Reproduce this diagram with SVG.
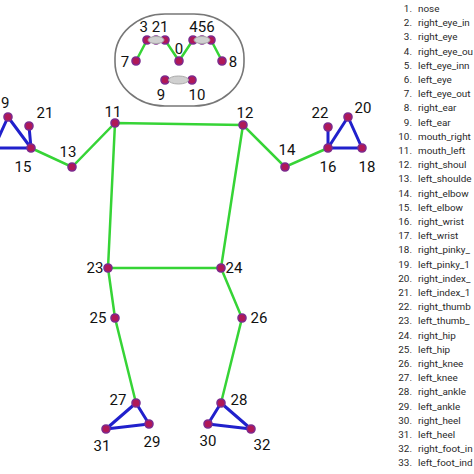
<svg xmlns="http://www.w3.org/2000/svg" width="474" height="474" viewBox="0 0 474 474">
<style>
.g{stroke:#36d436;stroke-width:2.5;fill:none;stroke-linecap:round}
.b{stroke:#2020cc;stroke-width:3;fill:none;stroke-linecap:round;stroke-linejoin:round}
.j{fill:#b01858;stroke:#7d2a8d;stroke-width:1.6}
.lbl{font-family:Roboto,"Liberation Sans",sans-serif;font-size:15px;fill:#111}
.lg{font-family:Roboto,"Liberation Sans",sans-serif;font-size:9.9px;fill:#2a2a2a}
.el{fill:#d0d0d0;stroke:#aaa;stroke-width:1}
</style>
<rect width="474" height="474" fill="#fff"/>
<g id="head">
<rect x="115" y="14" width="129" height="92" rx="50" ry="44" fill="none" stroke="#777" stroke-width="1.6"/>
</g>
<g id="connectors">
<polyline class="g" points="136,61 147,40"/>
<polyline class="g" points="165,40 179,61 193,40"/>
<polyline class="g" points="211,40 222,61"/>
<polyline class="g" points="31,148 72,167 115,123 243,125 285,167 328,148"/>
<polyline class="g" points="115,123 108,268 221,268 243,125"/>
<polyline class="g" points="108,268 115,318 136,403"/>
<polyline class="g" points="221,268 242,318 221,403"/>
<polyline class="b" points="31,148 -6,148 8,117 31,148 29,126"/>
<polyline class="b" points="328,148 348,117 362,148 328,148 328,127"/>
<polygon class="b" points="136,403 149,424 106,429"/>
<polygon class="b" points="221,403 208,424 251,429"/>
</g>
<g id="face-points">
<circle class="j" cx="147" cy="40" r="4"/><circle class="j" cx="156" cy="40" r="4"/><circle class="j" cx="165" cy="40" r="4"/>
<ellipse class="el" cx="156" cy="40" rx="8" ry="3.5"/>
<circle class="j" cx="193" cy="40" r="4"/><circle class="j" cx="202" cy="40" r="4"/><circle class="j" cx="211" cy="40" r="4"/>
<ellipse class="el" cx="202" cy="40" rx="8" ry="3.5"/>
<circle class="j" cx="136" cy="61" r="4"/>
<circle class="j" cx="179" cy="61" r="4"/>
<circle class="j" cx="222" cy="61" r="4"/>
<circle class="j" cx="165" cy="80" r="4"/><circle class="j" cx="192" cy="80" r="4"/>
<ellipse class="el" cx="178.5" cy="80" rx="10" ry="4"/>
<text class="lbl" x="154" y="32" text-anchor="middle">3 21</text>
<text class="lbl" x="202" y="32" text-anchor="middle">456</text>
<text class="lbl" x="179" y="54" text-anchor="middle">0</text>
<text class="lbl" x="125" y="67" text-anchor="middle">7</text>
<text class="lbl" x="233" y="67" text-anchor="middle">8</text>
<text class="lbl" x="161" y="100" text-anchor="middle">9</text>
<text class="lbl" x="197" y="100" text-anchor="middle">10</text>
</g>
<g id="n11"><circle class="j" cx="115" cy="123" r="4"/><text class="lbl" x="113" y="117" text-anchor="middle">11</text></g>
<g id="n12"><circle class="j" cx="243" cy="125" r="4"/><text class="lbl" x="245" y="118" text-anchor="middle">12</text></g>
<g id="n13"><circle class="j" cx="72" cy="167" r="4"/><text class="lbl" x="68" y="157" text-anchor="middle">13</text></g>
<g id="n14"><circle class="j" cx="285" cy="167" r="4"/><text class="lbl" x="287" y="155" text-anchor="middle">14</text></g>
<g id="n15"><circle class="j" cx="31" cy="148" r="4"/><text class="lbl" x="23" y="172" text-anchor="middle">15</text></g>
<g id="n16"><circle class="j" cx="328" cy="148" r="4"/><text class="lbl" x="328" y="172" text-anchor="middle">16</text></g>
<g id="n18"><circle class="j" cx="362" cy="148" r="4"/><text class="lbl" x="367" y="172" text-anchor="middle">18</text></g>
<g id="n19"><circle class="j" cx="8" cy="117" r="4"/><text class="lbl" x="1" y="108">9</text></g>
<g id="n20"><circle class="j" cx="348" cy="117" r="4"/><text class="lbl" x="363" y="113" text-anchor="middle">20</text></g>
<g id="n21"><circle class="j" cx="29" cy="126" r="4"/><text class="lbl" x="45" y="118" text-anchor="middle">21</text></g>
<g id="n22"><circle class="j" cx="328" cy="127" r="4"/><text class="lbl" x="320" y="118" text-anchor="middle">22</text></g>
<g id="n23"><circle class="j" cx="108" cy="268" r="4"/><text class="lbl" x="95" y="273" text-anchor="middle">23</text></g>
<g id="n24"><circle class="j" cx="221" cy="268" r="4"/><text class="lbl" x="234" y="273" text-anchor="middle">24</text></g>
<g id="n25"><circle class="j" cx="115" cy="318" r="4"/><text class="lbl" x="98" y="323" text-anchor="middle">25</text></g>
<g id="n26"><circle class="j" cx="242" cy="318" r="4"/><text class="lbl" x="259" y="323" text-anchor="middle">26</text></g>
<g id="n27"><circle class="j" cx="136" cy="403" r="4"/><text class="lbl" x="118" y="405" text-anchor="middle">27</text></g>
<g id="n28"><circle class="j" cx="221" cy="403" r="4"/><text class="lbl" x="239" y="405" text-anchor="middle">28</text></g>
<g id="n29"><circle class="j" cx="149" cy="424" r="4"/><text class="lbl" x="152" y="447" text-anchor="middle">29</text></g>
<g id="n30"><circle class="j" cx="208" cy="424" r="4"/><text class="lbl" x="208" y="446" text-anchor="middle">30</text></g>
<g id="n31"><circle class="j" cx="106" cy="429" r="4"/><text class="lbl" x="102" y="451" text-anchor="middle">31</text></g>
<g id="n32"><circle class="j" cx="251" cy="429" r="4"/><text class="lbl" x="262" y="450" text-anchor="middle">32</text></g>
<g id="legend">
<g text-anchor="end">
<text class="lg" x="412" y="12">1.</text><text class="lg" x="412" y="26.2">2.</text><text class="lg" x="412" y="40.4">3.</text><text class="lg" x="412" y="54.6">4.</text><text class="lg" x="412" y="68.8">5.</text><text class="lg" x="412" y="83">6.</text><text class="lg" x="412" y="97.2">7.</text><text class="lg" x="412" y="111.4">8.</text><text class="lg" x="412" y="125.6">9.</text><text class="lg" x="412" y="139.8">10.</text><text class="lg" x="412" y="154">11.</text><text class="lg" x="412" y="168.2">12.</text><text class="lg" x="412" y="182.4">13.</text><text class="lg" x="412" y="196.6">14.</text><text class="lg" x="412" y="210.8">15.</text><text class="lg" x="412" y="225">16.</text><text class="lg" x="412" y="239.2">17.</text><text class="lg" x="412" y="253.4">18.</text><text class="lg" x="412" y="267.6">19.</text><text class="lg" x="412" y="281.8">20.</text><text class="lg" x="412" y="296">21.</text><text class="lg" x="412" y="310.2">22.</text><text class="lg" x="412" y="324.4">23.</text><text class="lg" x="412" y="338.6">24.</text><text class="lg" x="412" y="352.8">25.</text><text class="lg" x="412" y="367">26.</text><text class="lg" x="412" y="381.2">27.</text><text class="lg" x="412" y="395.4">28.</text><text class="lg" x="412" y="409.6">29.</text><text class="lg" x="412" y="423.8">30.</text><text class="lg" x="412" y="438">31.</text><text class="lg" x="412" y="452.2">32.</text><text class="lg" x="412" y="466.4">33.</text>
</g>
<g>
<text class="lg" x="418" y="12">nose</text><text class="lg" x="418" y="26.2">right_eye_in</text><text class="lg" x="418" y="40.4">right_eye</text><text class="lg" x="418" y="54.6">right_eye_ou</text><text class="lg" x="418" y="68.8">left_eye_inn</text><text class="lg" x="418" y="83">left_eye</text><text class="lg" x="418" y="97.2">left_eye_out</text><text class="lg" x="418" y="111.4">right_ear</text><text class="lg" x="418" y="125.6">left_ear</text><text class="lg" x="418" y="139.8">mouth_right</text><text class="lg" x="418" y="154">mouth_left</text><text class="lg" x="418" y="168.2">right_shoul</text><text class="lg" x="418" y="182.4">left_shoulde</text><text class="lg" x="418" y="196.6">right_elbow</text><text class="lg" x="418" y="210.8">left_elbow</text><text class="lg" x="418" y="225">right_wrist</text><text class="lg" x="418" y="239.2">left_wrist</text><text class="lg" x="418" y="253.4">right_pinky_</text><text class="lg" x="418" y="267.6">left_pinky_1</text><text class="lg" x="418" y="281.8">right_index_</text><text class="lg" x="418" y="296">left_index_1</text><text class="lg" x="418" y="310.2">right_thumb</text><text class="lg" x="418" y="324.4">left_thumb_</text><text class="lg" x="418" y="338.6">right_hip</text><text class="lg" x="418" y="352.8">left_hip</text><text class="lg" x="418" y="367">right_knee</text><text class="lg" x="418" y="381.2">left_knee</text><text class="lg" x="418" y="395.4">right_ankle</text><text class="lg" x="418" y="409.6">left_ankle</text><text class="lg" x="418" y="423.8">right_heel</text><text class="lg" x="418" y="438">left_heel</text><text class="lg" x="418" y="452.2">right_foot_in</text><text class="lg" x="418" y="466.4">left_foot_ind</text>
</g>
</g>
</svg>
